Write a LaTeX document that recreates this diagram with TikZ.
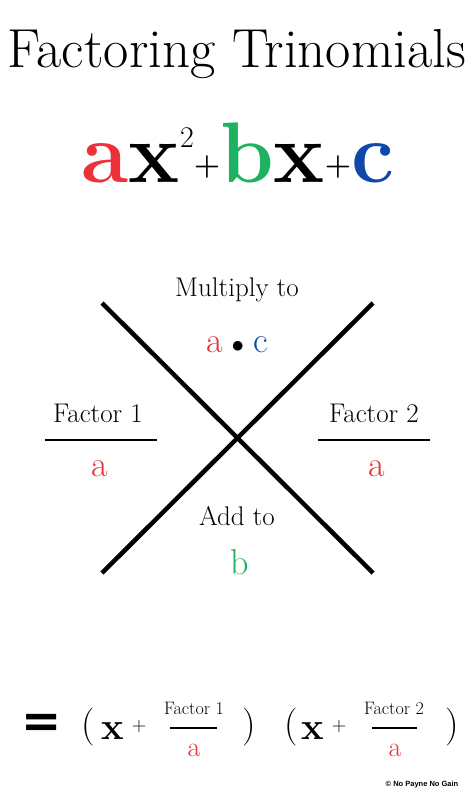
\documentclass[tikz,border=0pt]{standalone}
\usepackage{fontspec}
\newfontfamily\credit{Liberation Sans}
\newfontfamily\eqfont{DejaVu Sans}
\definecolor{cred}{RGB}{236,50,56}
\definecolor{cgreen}{RGB}{28,178,96}
\definecolor{cblue}{RGB}{16,72,170}
\tikzset{
  lbl/.style={inner sep=0pt, font=\fontsize{27}{30}\selectfont},
  letter/.style={inner sep=0pt, anchor=base, font=\fontsize{36}{38}\selectfont},
  bar/.style={line width=2.2pt},
  cross/.style={line width=4.5pt},
  paren/.style={inner sep=0pt, font=\fontsize{38}{38}\selectfont},
}
\newcommand{\smallplus}{\raisebox{8pt}{\fontsize{30}{30}\selectfont +}}
\begin{document}
\begin{tikzpicture}[x=1pt,y=-1pt]
\useasboundingbox[fill=white] (0,0) rectangle (474,790);
% title
\node[inner sep=0pt, anchor=base, font=\fontsize{55}{60}\selectfont] (title) at (237,67) {Factoring Trinomials};
% formula
\node[inner sep=0pt, anchor=base, font=\fontsize{86}{90}\selectfont\bfseries] (formula) at (238,182)
  {\textcolor{cred}{a}x\raisebox{35pt}{\mdseries\fontsize{30}{32}\selectfont 2}\smallplus\textcolor{cgreen}{b}x\smallplus\textcolor{cblue}{c}};
% cross
\coordinate (tl) at (102,303);
\coordinate (br) at (373,573);
\coordinate (tr) at (373,303);
\coordinate (bl) at (102,573);
\draw[cross] (tl) -- (br);
\draw[cross] (tr) -- (bl);
% labels
\node[lbl] (mult) at (237,290) {Multiply to};
\node[letter] (ac) at (237,352) {\textcolor{cred}{a}\hspace{9pt}{\fontsize{28}{28}\selectfont$\bullet$}\hspace{9pt}\textcolor{cblue}{c}};
\node[lbl] (f1) at (98,413) {Factor 1};
\coordinate (f1l) at (45,440);
\coordinate (f1r) at (157,440);
\draw[bar] (f1l) -- (f1r);
\node[letter, text=cred] (a1) at (100,476) {a};
\node[lbl] (f2) at (374,413) {Factor 2};
\coordinate (f2l) at (318,440);
\coordinate (f2r) at (430,440);
\draw[bar] (f2l) -- (f2r);
\node[letter, text=cred] (a2) at (377,476) {a};
\node[lbl] (add) at (237,516) {Add to};
\node[letter, text=cgreen] (bb) at (240,574) {b};
% bottom equation
\node[inner sep=0pt, font=\eqfont\bfseries\fontsize{48}{48}\selectfont] (eq) at (42,726) {=};
\node[paren] (lp1) at (88,727) {(};
\node[inner sep=0pt, anchor=base, font=\fontsize{38}{38}\selectfont\bfseries] (x1) at (113,739) {x};
\node[inner sep=0pt, font=\fontsize{20}{20}\selectfont] (p1) at (139,727) {+};
\node[inner sep=0pt, font=\fontsize{18}{18}\selectfont] (ff1) at (194,708) {Factor 1};
\coordinate (b1l) at (170,728);
\coordinate (b1r) at (217,728);
\draw[bar] (b1l) -- (b1r);
\node[inner sep=0pt, anchor=base, text=cred, font=\fontsize{28}{28}\selectfont] (fa1) at (194,756) {a};
\node[paren] (rp1) at (249,727) {)};
\node[paren] (lp2) at (291,727) {(};
\node[inner sep=0pt, anchor=base, font=\fontsize{38}{38}\selectfont\bfseries] (x2) at (313,739) {x};
\node[inner sep=0pt, font=\fontsize{20}{20}\selectfont] (p2) at (339,727) {+};
\node[inner sep=0pt, font=\fontsize{18}{18}\selectfont] (ff2) at (394,708) {Factor 2};
\coordinate (b2l) at (372,728);
\coordinate (b2r) at (417,728);
\draw[bar] (b2l) -- (b2r);
\node[inner sep=0pt, anchor=base, text=cred, font=\fontsize{28}{28}\selectfont] (fa2) at (395,756) {a};
\node[paren] (rp2) at (452,727) {)};
% credit
\node[inner sep=0pt, font=\credit\bfseries\fontsize{7.5}{8}\selectfont] (cr) at (422,785) {© No Payne No Gain};
\end{tikzpicture}
\end{document}
